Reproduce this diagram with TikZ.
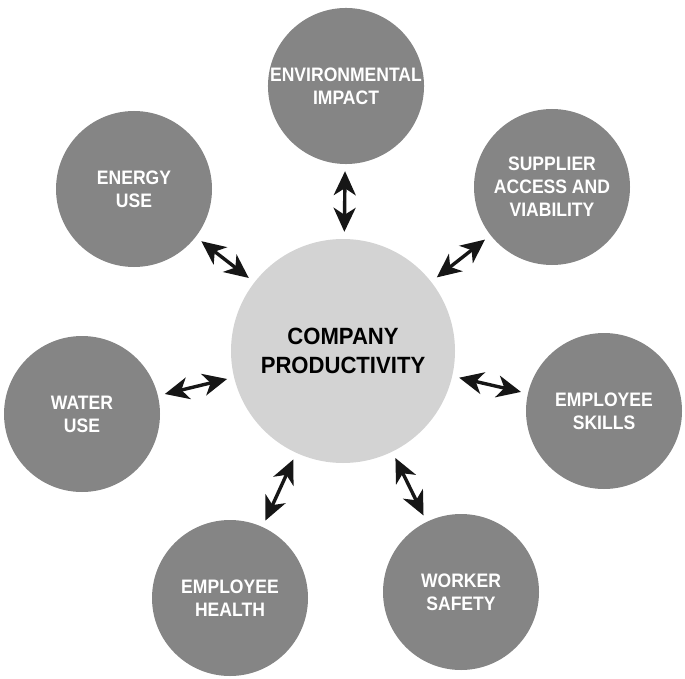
\documentclass[tikz,border=0pt]{standalone}
\usepackage{fontspec}
\usetikzlibrary{arrows.meta}
\newfontfamily\labfont[FakeStretch=0.9]{Liberation Sans}
\newfontfamily\cenfont[FakeStretch=0.94]{Liberation Sans}
\definecolor{outergray}{RGB}{133,133,133}
\definecolor{centergray}{RGB}{211,211,211}
\definecolor{arrowblack}{RGB}{22,22,22}
\tikzset{
  outer/.style={circle, fill=outergray, minimum size=156pt, inner sep=0pt,
    text=white, align=center, font=\labfont\bfseries\fontsize{19.5}{23}\selectfont},
  centre/.style={circle, fill=centergray, minimum size=224pt, inner sep=0pt,
    text=black, align=center, font=\cenfont\bfseries\fontsize{23.5}{29}\selectfont},
  link/.style={draw=arrowblack, line width=3.4pt, shorten <=7pt, shorten >=7pt,
    {Stealth[length=24pt,width=22pt,inset=7pt]}-{Stealth[length=24pt,width=22pt,inset=7pt]}}
}
\begin{document}
\begin{tikzpicture}[x=1pt,y=-1pt]
\useasboundingbox (0,0) rectangle (685,679);
\node[centre] (cp) at (343,351) {COMPANY\\PRODUCTIVITY};
\node[outer] (env) at (346,86) {ENVIRONMENTAL\\IMPACT};
\node[outer] (sup) at (552,187) {SUPPLIER\\ACCESS AND\\VIABILITY};
\node[outer] (ski) at (604,411) {EMPLOYEE\\SKILLS};
\node[outer] (saf) at (461,592) {WORKER\\SAFETY};
\node[outer] (hea) at (230,598) {EMPLOYEE\\HEALTH};
\node[outer] (wat) at (82,414) {WATER\\USE};
\node[outer] (ene) at (134,189) {ENERGY\\USE};
\path[link] (env) -- (cp);
\path[link] (sup) -- (cp);
\path[link] (ski) -- (cp);
\path[link] (saf) -- (cp);
\path[link] (hea) -- (cp);
\path[link] (wat) -- (cp);
\path[link] (ene) -- (cp);
\end{tikzpicture}
\end{document}
